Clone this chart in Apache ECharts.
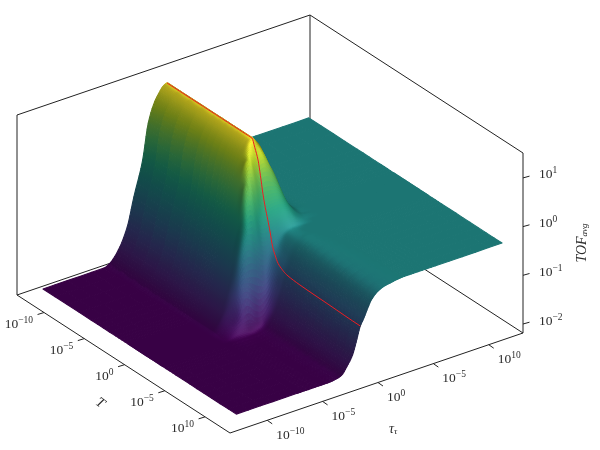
<!DOCTYPE html>
<html><head><meta charset="utf-8">
<style>html,body{margin:0;padding:0;background:#fff}#c{width:600px;height:450px}</style>
<script src="https://cdn.jsdelivr.net/npm/echarts@6/dist/echarts.min.js"></script>
</head><body><div id="c"></div>
<script>
// ---- values (log10 of T, tau, TOF) ----
const logTau = [-12,-6.5,-6,-5.2,-4.4,-3.8,-3,-2.5,-1.9,-1.5,-1.1,-0.8,-0.5,-0.2,0.2,0.6,1,1.5,2,2.5,3,4,6,12];
const logT = [-12,-6,-3,-1.46,-1.1,-0.7,-0.4,-0.1,0.2,0.5,0.8,1.1,1.4,1.8,2.3,2.6,2.9,4.5,8,12];
const ridgeColumn = 11;
const rowCold = [-2.02,-2.02,-1.97,-1.75,-1.34,-.77,-.07,.65,1.05,1.2,1.31,1.34,1.25,1.15,.85,.6,.35,.03,-.18,-.3,-.35,-.37,-.37,-.37];
const rowA = [-2.02,-2.02,-1.97,-1.75,-1.34,-.77,-.07,.65,1.05,1.2,1.26,1.18,1.15,1.08,.84,.6,.35,.03,-.18,-.3,-.35,-.37,-.37,-.37];
const rowB = [-2.02,-2.02,-1.97,-1.75,-1.34,-.77,-.07,.65,1.05,1.12,1.03,.97,1.0,.95,.78,.58,.33,.02,-.18,-.3,-.35,-.37,-.37,-.37];
const rowC = [-2.02,-2.02,-1.97,-1.75,-1.34,-.77,-.07,.65,1.05,.93,.77,.68,.72,.70,.6,.46,.26,-.02,-.2,-.31,-.36,-.37,-.37,-.37];
const rowD = [-2.02,-2.02,-1.97,-1.75,-1.34,-.77,-.07,.65,.83,.65,.41,.35,.35,.35,.33,.27,.14,-.06,-.22,-.32,-.36,-.37,-.37,-.37];
const rowE = [-2.02,-2.02,-1.97,-1.75,-1.34,-.77,-.07,.65,.55,.24,.13,.09,.1,.11,.12,.09,.02,-.12,-.25,-.33,-.36,-.37,-.37,-.37];
const rowF = [-2.02,-2.02,-1.97,-1.75,-1.34,-.77,-.07,.39,.07,-.12,-.12,-.12,-.12,-.10,-.08,-.08,-.1,-.2,-.3,-.35,-.37,-.37,-.37,-.37];
const rowG = [-2.02,-2.02,-1.97,-1.75,-1.34,-.77,-.17,.0,-.32,-.42,-.43,-.35,-.33,-.29,-.24,-.21,-.21,-.27,-.33,-.36,-.37,-.37,-.37,-.37];
const rowH = [-2.02,-2.02,-1.97,-1.75,-1.40,-.82,-.42,-.52,-.69,-.75,-.71,-.61,-.55,-.48,-.4,-.35,-.33,-.35,-.37,-.37,-.37,-.37,-.37,-.37];
const rowI = [-2.02,-2.02,-1.98,-1.8,-1.5,-1.0,-.9,-.94,-1.11,-1.08,-.89,-.75,-.66,-.56,-.44,-.38,-.36,-.37,-.37,-.37,-.37,-.37,-.37,-.37];
const rowJ = [-2.02,-2.02,-2.0,-1.85,-1.65,-1.25,-1.4,-1.51,-1.44,-1.3,-1.1,-.89,-.75,-.6,-.45,-.4,-.37,-.37,-.37,-.37,-.37,-.37,-.37,-.37];
const rowK = [-2.02,-2.02,-2.01,-1.92,-1.82,-1.77,-1.88,-1.85,-1.67,-1.47,-1.17,-.96,-.82,-.65,-.48,-.41,-.38,-.37,-.37,-.37,-.37,-.37,-.37,-.37];
const rowK2 = [-2.02,-2.02,-2.02,-1.97,-1.95,-1.97,-1.96,-1.9,-1.72,-1.52,-1.22,-.99,-.84,-.67,-.49,-.42,-.38,-.37,-.37,-.37,-.37,-.37,-.37,-.37];
const rowL = [-2.02,-2.02,-2.02,-2.02,-2.02,-2.02,-2.0,-1.95,-1.75,-1.55,-1.25,-1.01,-.85,-.68,-.5,-.42,-.38,-.37,-.37,-.37,-.37,-.37,-.37,-.37];
const rowM = [-2.02,-2.02,-2.02,-2.02,-2.02,-2.02,-2.0,-1.95,-1.76,-1.58,-1.28,-1.04,-.88,-.72,-.54,-.45,-.4,-.38,-.37,-.37,-.37,-.37,-.37,-.37];
const rowN = [-2.02,-2.02,-2.02,-2.02,-2.02,-2.02,-2.0,-1.96,-1.77,-1.60,-1.30,-1.06,-.92,-.76,-.58,-.48,-.43,-.4,-.38,-.37,-.37,-.37,-.37,-.37];
const rowO = [-2.02,-2.02,-2.02,-2.02,-2.02,-2.02,-2.0,-1.96,-1.78,-1.62,-1.32,-1.08,-.95,-.8,-.62,-.52,-.46,-.42,-.40,-.38,-.37,-.37,-.37,-.37];
const surfaceRows = [rowCold,rowCold,rowCold,rowCold,rowA,rowB,rowC,rowD,rowE,rowF,rowG,rowH,rowI,rowJ,rowK,rowK2,rowL,rowM,rowN,rowO];

const tTicks = [-10,-5,0,5,10];
const tTickLabels = ['\u221210','\u22125','0','\u22125','10'];
const tauTicks = [-10,-5,0,5,10];
const tauTickLabels = ['\u221210','\u22125','0','\u22125','10'];
const zTicks = [-2,-1,0,1];
const zTickLabels = ['\u22122','\u22121','0','1'];

const viridis = ['#440154','#482475','#414487','#355f8d','#2a788e','#21918c','#22a884','#44bf70','#7ad151','#bddf26','#fde725'];

// ---- view of the box ----
const O=[17,295], U=[213,138], V=[293,-100], Z=[0,-180];
const uOf=t=>.505+.0378*t, vOf=t=>.505+.0378*t, zOf=l=>.05+.2705*(l+2);
const proj=(u,v,z)=>[O[0]+u*U[0]+v*V[0]+z*Z[0], O[1]+u*U[1]+v*V[1]+z*Z[1]];
const FONT='"Liberation Serif"', INK='#2b2b2b';

const rgb=viridis.map(h=>[1,3,5].map(i=>parseInt(h.substr(i,2),16)));
function cmap(c){c=Math.max(0,Math.min(.9999,c))*(rgb.length-1);const i=Math.floor(c),f=c-i;
  return [0,1,2].map(k=>rgb[i][k]*(1-f)+rgb[i+1][k]*f);}
const LIGHT=[.7,-.1,.7], HALF=[.85,-.05,.5];

// monotone shape-preserving curve through the table, only used to paint a smooth mesh
function pchip(xs,ys){
  const n=xs.length,h=[],d=[],m=new Array(n).fill(0);
  for(let i=0;i<n-1;i++){h[i]=xs[i+1]-xs[i];d[i]=(ys[i+1]-ys[i])/h[i];}
  for(let i=1;i<n-1;i++){ if(d[i-1]*d[i]>0){const w1=2*h[i]+h[i-1],w2=h[i]+2*h[i-1];m[i]=(w1+w2)/(w1/d[i-1]+w2/d[i]);} }
  return (i,t)=>{const H=h[i],t2=t*t,t3=t2*t;
    return (2*t3-3*t2+1)*ys[i]+(t3-2*t2+t)*H*m[i]+(-2*t3+3*t2)*ys[i+1]+(t3-t2)*H*m[i+1];};
}
const SUBU=4,SUBV=5;
const refine=(xs,k)=>{const o=[];for(let i=0;i<xs.length-1;i++)for(let s=0;s<k;s++)o.push(xs[i]+(xs[i+1]-xs[i])*s/k);o.push(xs[xs.length-1]);return o;};
const fineT=refine(logT,SUBU),fineTau=refine(logTau,SUBV);
const sampleCurve=(xs,ys,k)=>{const f=pchip(xs,ys),o=[];for(let i=0;i<xs.length-1;i++)for(let s=0;s<k;s++)o.push(f(i,s/k));o.push(ys[ys.length-1]);return o;};
const byRow=surfaceRows.map(r=>sampleCurve(logTau,r,SUBV));
const fineCols=fineTau.map((_,q)=>sampleCurve(logT,byRow.map(r=>r[q]),SUBU));
const fine=fineT.map((_,s)=>fineTau.map((_,q)=>fineCols[q][s]));
const nR=fineT.length,nC=fineTau.length;
const US=fineT.map(uOf),VS=fineTau.map(vOf),ZS=fine.map(r=>r.map(zOf));
function vertexColor(i,j){
  const a=Math.max(0,i-4),b=Math.min(nR-1,i+4),c=Math.max(0,j-5),d=Math.min(nC-1,j+5);
  const dzu=(ZS[b][j]-ZS[a][j])/(US[b]-US[a])*.8, dzv=(ZS[i][d]-ZS[i][c])/(VS[d]-VS[c])*.8;
  const L=Math.hypot(dzu,dzv,1);const n=[-dzu/L,-dzv/L,1/L];
  const dot=Math.abs(n[0]*LIGHT[0]+n[1]*LIGHT[1]+n[2]*LIGHT[2]);
  const hd=Math.max(0,n[0]*HALF[0]+n[1]*HALF[1]+n[2]*HALF[2]);
  const f=.4+.6*dot, sp=24*Math.pow(Math.min(hd,1),8);
  return cmap((fine[i][j]+2.02)/3.36).map(x=>x*f+sp);
}
const VC=fineT.map((_,i)=>fineTau.map((_,j)=>vertexColor(i,j)));
const cssOf=(a,b)=>'rgb('+[0,1,2].map(k=>Math.min(255,Math.round((a[k]+b[k])/2))).join(',')+')';
function cellItem(params,api){
  const i=api.value(0),j=api.value(1);
  const at=(a,b)=>api.coord(proj(US[a],VS[b],ZS[a][b]));
  const p00=at(i,j),p01=at(i,j+1),p11=at(i+1,j+1),p10=at(i+1,j);
  const x=(p00[0]+p10[0])/2,y=(p00[1]+p10[1])/2,x2=(p01[0]+p11[0])/2,y2=(p01[1]+p11[1])/2;
  const grad={type:'linear',global:true,x,y,x2,y2,colorStops:[{offset:0,color:cssOf(VC[i][j],VC[i+1][j])},{offset:1,color:cssOf(VC[i][j+1],VC[i+1][j+1])}]};
  return {type:'polygon',shape:{points:[p00,p01,p11,p10]},style:{fill:grad,stroke:grad,lineWidth:1.1,lineJoin:'round'}};
}
const cells=[];for(let i=0;i<nR-1;i++)for(let j=nC-2;j>=0;j--)cells.push([i,j]);

const boxEdges=[[[0,0,0],[1,0,0]],[[1,0,0],[1,1,0]],[[0,0,0],[0,1,0]],[[0,1,0],[1,1,0]],
  [[0,0,0],[0,0,1]],[[0,1,0],[0,1,1]],[[1,1,0],[1,1,1]],[[0,0,1],[0,1,1]],[[0,1,1],[1,1,1]]];
const seg=(api,a,b,w)=>({type:'line',shape:{x1:api.coord(a)[0],y1:api.coord(a)[1],x2:api.coord(b)[0],y2:api.coord(b)[1]},style:{stroke:'#222',lineWidth:w||1}});

const rich={b:{fontFamily:FONT,fontSize:13.5,lineHeight:16,fill:INK,verticalAlign:'bottom'},
  s:{fontFamily:FONT,fontSize:9.5,lineHeight:9,fill:INK,verticalAlign:'top'}};
const tickText=(p,lab,align)=>({type:'text',x:p[0],y:p[1],style:{text:'{b|10}{s|'+lab+'}',rich,align,verticalAlign:'middle'}});
const subRich=(size)=>({t:{fontFamily:FONT,fontStyle:'italic',fontSize:size,fill:INK,verticalAlign:'top',lineHeight:14},u:{fontFamily:FONT,fontStyle:'italic',fontSize:9,fill:INK,verticalAlign:'bottom',lineHeight:9,padding:[8,0,0,0]}});

const option={animation:false,
 grid:{left:0,right:0,top:0,bottom:0},
 xAxis:{type:'value',min:0,max:600,show:false},
 yAxis:{type:'value',min:0,max:450,inverse:true,show:false},
 series:[
  {type:'custom',coordinateSystem:'cartesian2d',silent:true,clip:false,data:[[0,0]],encode:{x:0,y:1},
   renderItem(p,api){
    const kids=boxEdges.map(e=>seg(api,proj(...e[0]),proj(...e[1])));
    tTicks.forEach(t=>{const q=proj(uOf(t),0,0);kids.push(seg(api,q,[q[0]-6.5,q[1]+2]));});
    tauTicks.forEach(t=>{const q=proj(1,vOf(t),0);kids.push(seg(api,q,[q[0]+5,q[1]+3.5]));});
    zTicks.forEach(l=>{const q=proj(1,1,zOf(l));kids.push(seg(api,q,[q[0]+6.5,q[1]-1.8]));});
    return {type:'group',children:kids};}},
  {type:'custom',coordinateSystem:'cartesian2d',silent:true,clip:false,progressive:0,data:cells,encode:{x:0,y:1},renderItem:cellItem},
  {type:'custom',coordinateSystem:'cartesian2d',silent:true,clip:false,data:[[0,0]],encode:{x:0,y:1},
   renderItem(p,api){
    const q=ridgeColumn*SUBV;
    const pts=fineT.map((t,i)=>api.coord(proj(US[i],VS[q],ZS[i][q])));
    return {type:'polyline',shape:{points:pts},style:{stroke:'#ee1c22',fill:null,lineWidth:1}};}},
  {type:'custom',coordinateSystem:'cartesian2d',silent:true,clip:false,data:[[0,0]],encode:{x:0,y:1},
   renderItem(p,api){
    const kids=[];
    tTicks.forEach((t,i)=>{const q=api.coord(proj(uOf(t),0,0));kids.push(tickText([q[0]-11,q[1]+11],tTickLabels[i],'right'));});
    tauTicks.forEach((t,i)=>{const q=api.coord(proj(1,vOf(t),0));kids.push(tickText([q[0]+9,q[1]+14],tauTickLabels[i],'left'));});
    zTicks.forEach((l,i)=>{const q=api.coord(proj(1,1,zOf(l)));kids.push(tickText([q[0]+16,q[1]-4],zTickLabels[i],'left'));});
    kids.push({type:'text',x:100,y:403,rotation:-Math.PI*.2,style:{text:'T',fontFamily:FONT,fontStyle:'italic',fontSize:14,fill:INK,align:'center',verticalAlign:'middle'}});
    kids.push({type:'text',x:393,y:429,style:{text:'{t|\u03c4}{u|\u03c4}',align:'center',verticalAlign:'middle',rich:subRich(14)}});
    kids.push({type:'text',x:582,y:243,rotation:Math.PI/2,style:{text:'{t|TOF}{u|avg}',align:'center',verticalAlign:'middle',rich:subRich(14)}});
    return {type:'group',children:kids};}}
 ]};
echarts.init(document.getElementById('c'),null,{renderer:'canvas'}).setOption(option);
</script></body></html>
